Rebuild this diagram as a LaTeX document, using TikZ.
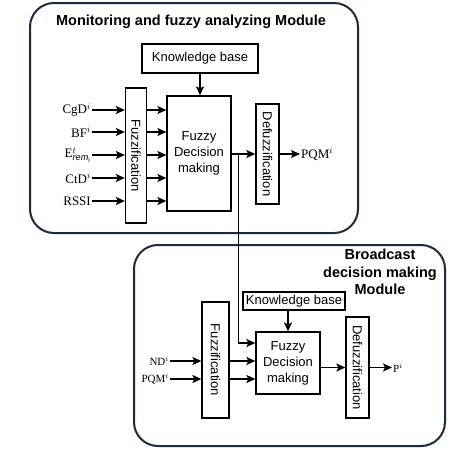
\documentclass[tikz,border=0pt]{standalone}
\usepackage{fontspec}
\setmainfont{Liberation Sans}
\newfontfamily\labelfont{Liberation Serif}
\usetikzlibrary{arrows.meta, positioning, calc}
\definecolor{modline}{HTML}{1B2A3F}
\tikzstyle{module} = [rectangle, draw=modline, line width=2pt, rounded corners=24pt]
\tikzstyle{modtitle} = [font=\bfseries\fontsize{14.5}{17.5}\selectfont, align=center]
\tikzstyle{block} = [rectangle, draw=black, line width=1.3pt, text centered, align=center, inner sep=1pt, font=\fontsize{13}{16}\selectfont]
\tikzstyle{vblock} = [block, rotate=-90]
\tikzstyle{inlabel} = [anchor=east, inner sep=1pt, font=\labelfont\fontsize{13}{15}\selectfont]
\tikzstyle{arrow} = [line width=1.3pt, -{Stealth[length=9pt, width=8pt, inset=2pt]}]

\begin{document}
\begin{tikzpicture}[x=1pt, y=-1pt]
        \useasboundingbox (0,0) rectangle (474,475);

        % Monitoring module (top)
        \node (monitor) [module, minimum width=328, minimum height=230] at (194,118) {};
        \node (montitle) [modtitle] at (191,22) {Monitoring and fuzzy analyzing Module};
        \node (kb) [block, minimum width=116, minimum height=29] at (200,58.5) {Knowledge base};
        \node (fuzz) [vblock, minimum width=135, minimum height=21] at (136,155.5) {Fuzzification};
        \node (fdm) [block, minimum width=64, minimum height=115] at (199,153.5) {Fuzzy\\Decision\\making};
        \node (defuzz) [vblock, minimum width=100, minimum height=23] at (267.5,154) {Defuzzification};
        \node (pqm) [inlabel, anchor=west] at (300,154) {PQM$^{i}$};

        % Inputs (top)
        \node (cgd) [inlabel] at (92,110) {CgD$^{i}$};
        \node (bf) [inlabel] at (92,132) {BF$^{i}$};
        \node (erem) [inlabel] at (92,155) {E$^{t}_{\mathit{rem}_{\mathrm{i}}}$};
        \node (ctd) [inlabel] at (92,178) {CtD$^{i}$};
        \node (rssi) [inlabel] at (92,201) {RSSI};

        % Broadcast module (bottom)
        \node (broadcast) [module, minimum width=311, minimum height=201] at (289.5,345.5) {};
        \node (bctitle) [modtitle] at (380,272) {Broadcast\\decision making\\Module};
        \node (kbB) [block, minimum width=102, minimum height=18] at (294,301) {Knowledge base};
        \node (fuzzB) [vblock, minimum width=116, minimum height=27] at (215.5,360) {Fuzzification};
        \node (fdmB) [block, minimum width=64, minimum height=62] at (288,363) {Fuzzy\\Decision\\making};
        \node (defuzzB) [vblock, minimum width=101, minimum height=23] at (357.5,367.5) {Defuzzification};
        \node (pB) [inlabel, anchor=west, font=\labelfont\fontsize{11}{13}\selectfont] at (392,367.5) {P$^{i}$};

        % Inputs (bottom)
        \node (nd) [inlabel, font=\labelfont\fontsize{11}{13}\selectfont] at (170,361) {ND$^{i}$};
        \node (pqmB) [inlabel, font=\labelfont\fontsize{11}{13}\selectfont] at (170,379) {PQM$^{i}$};

        % Arrows (top)
        \draw [arrow] (cgd.east) -- (cgd.east -| fuzz.south);
        \draw [arrow] (bf.east) -- (bf.east -| fuzz.south);
        \draw [arrow] (erem.east) -- (erem.east -| fuzz.south);
        \draw [arrow] (ctd.east) -- (ctd.east -| fuzz.south);
        \draw [arrow] (rssi.east) -- (rssi.east -| fuzz.south);

        \draw [arrow] (cgd.east -| fuzz.north) -- (cgd.east -| fdm.west);
        \draw [arrow] (bf.east -| fuzz.north) -- (bf.east -| fdm.west);
        \draw [arrow] (erem.east -| fuzz.north) -- (erem.east -| fdm.west);
        \draw [arrow] (ctd.east -| fuzz.north) -- (ctd.east -| fdm.west);
        \draw [arrow] (rssi.east -| fuzz.north) -- (rssi.east -| fdm.west);

        \draw [arrow] (kb.south) -- (kb.south |- fdm.north);
        \draw [arrow] (fdm.east |- defuzz.center) -- (defuzz.south);
        \draw [arrow] (defuzz.north) -- (pqm.west);

        % Link to broadcast module
        \coordinate (tap) at ($(fdm.east |- defuzz.center)!0.28!(defuzz.south)$);
        \coordinate (feed) at ($(fdmB.west)+(0,-20)$);
        \draw [arrow] (tap) |- (feed);

        % Arrows (bottom)
        \draw [arrow] (nd.east) -- (nd.east -| fuzzB.south);
        \draw [arrow] (pqmB.east) -- (pqmB.east -| fuzzB.south);
        \draw [arrow] (nd.east -| fuzzB.north) -- (nd.east -| fdmB.west);
        \draw [arrow] (pqmB.east -| fuzzB.north) -- (pqmB.east -| fdmB.west);
        \draw [arrow] (kbB.south -| fdmB.north) -- (fdmB.north);
        \draw [arrow] (defuzzB.center -| fdmB.east) -- (defuzzB.south);
        \draw [arrow] (defuzzB.north) -- (pB.west);

    \end{tikzpicture}
\end{document}
